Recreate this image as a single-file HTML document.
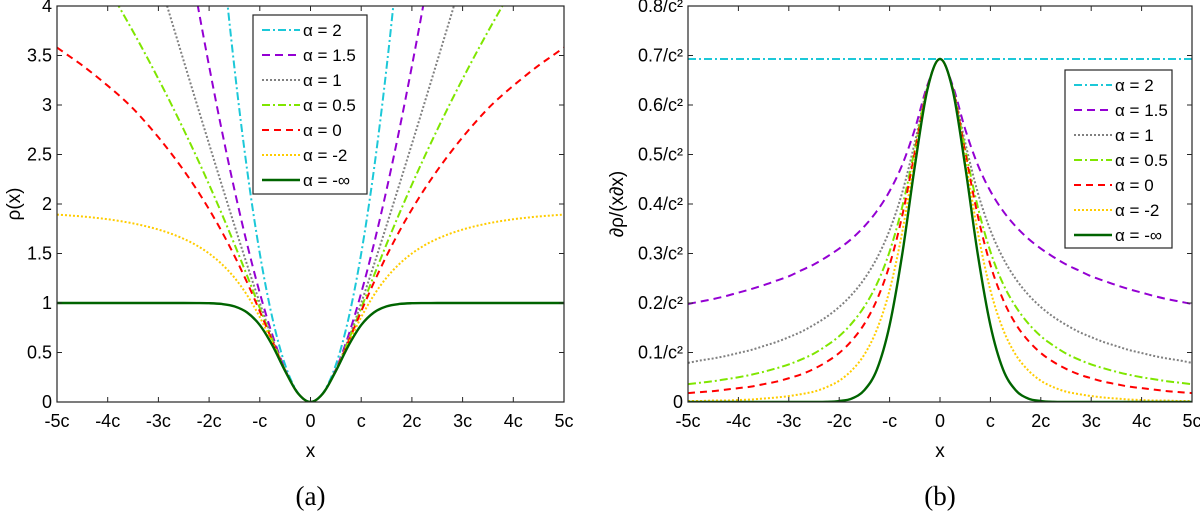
<!DOCTYPE html>
<html><head><meta charset="utf-8"><style>
body{margin:0;background:#fff;}
svg text{font-family:"Liberation Sans",sans-serif;fill:#000;}
</style></head><body>
<svg id="fig" width="1200" height="515" viewBox="0 0 1200 515" xmlns="http://www.w3.org/2000/svg"></svg>
<script>
const xSamples=[0,0.25,0.5,0.75,1,1.25,1.5,1.75,2,2.25,2.5,2.75,3,3.25,3.5,3.75,4,4.25,4.5,4.75,5];
const seriesLabels=["α = 2","α = 1.5","α = 1","α = 0.5","α = 0","α = -2","α = -∞"];
const rhoA2=[0,0.094,0.375,0.844,1.5,2.344,3.375,4.594,6.0,7.59,9.375,11.34,13.5,15.84,18.375,21.09,24,27.09,30.375,33.84,37.5];
const rhoA15=[0,0.090,0.329,0.675,1.101,1.594,2.144,2.745,3.393,4.08,4.82,5.59,6.40,7.24,8.12,9.03,9.97,10.93,11.93,12.97,14.03];
const rhoA1=[0,0.090,0.323,0.639,1,1.385,1.784,2.192,2.606,3.023,3.444,3.867,4.292,4.718,5.144,5.572,6,6.429,6.858,7.288,7.718];
const rhoA05=[0,0.090,0.320,0.622,0.948,1.275,1.594,1.901,2.196,2.479,2.750,3.012,3.263,3.507,3.742,3.969,4.190,4.405,4.614,4.818,5.017];
const rhoA0=[0,0.0896,0.318,0.612,0.916,1.207,1.476,1.722,1.946,2.151,2.339,2.513,2.674,2.824,2.964,3.085,3.195,3.300,3.400,3.490,3.580];
const rhoAm2=[0,0.0896,0.316,0.593,0.857,1.079,1.256,1.393,1.5,1.583,1.648,1.700,1.742,1.776,1.804,1.827,1.846,1.861,1.874,1.884,1.893];
const rhoAinf=[0,0.0895,0.313,0.570,0.777,0.904,0.966,0.990,0.998,0.9995,1,1,1,1,1,1,1,1,1,1,1];
const wA2=[0.693,0.693,0.693,0.693,0.693,0.693,0.693,0.693,0.693,0.693,0.693,0.693,0.693,0.693,0.693,0.693,0.693,0.693,0.693,0.693,0.693];
const wA15=[0.693,0.640,0.551,0.479,0.426,0.386,0.355,0.330,0.310,0.293,0.278,0.266,0.254,0.245,0.236,0.228,0.221,0.214,0.208,0.203,0.198];
const wA1=[0.693,0.636,0.524,0.423,0.347,0.291,0.249,0.217,0.192,0.172,0.156,0.142,0.131,0.121,0.113,0.105,0.099,0.093,0.088,0.084,0.079];
const wA05=[0.693,0.634,0.511,0.394,0.304,0.239,0.193,0.159,0.133,0.114,0.098,0.086,0.076,0.068,0.061,0.055,0.050,0.046,0.042,0.039,0.036];
const wA0=[0.693,0.634,0.504,0.376,0.277,0.207,0.158,0.124,0.099,0.081,0.067,0.056,0.048,0.041,0.036,0.031,0.028,0.025,0.022,0.020,0.018];
const wAm2=[0.693,0.632,0.491,0.343,0.226,0.147,0.096,0.064,0.043,0.030,0.021,0.016,0.012,0.009,0.007,0.005,0.004,0.003,0.003,0.002,0.002];
const wAinf=[0.693,0.631,0.476,0.298,0.155,0.066,0.024,0.007,0.002,0.0003,0,0,0,0,0,0,0,0,0,0,0];
const xTickVals=[-5,-4,-3,-2,-1,0,1,2,3,4,5];
const xTickLabels=["-5c","-4c","-3c","-2c","-c","0","c","2c","3c","4c","5c"];
const yTickValsA=[0,0.5,1,1.5,2,2.5,3,3.5,4];
const yTickLabelsA=["0","0.5","1","1.5","2","2.5","3","3.5","4"];
const yTickValsB=[0,0.1,0.2,0.3,0.4,0.5,0.6,0.7,0.8];
const yTickLabelsB=["0","0.1/c²","0.2/c²","0.3/c²","0.4/c²","0.5/c²","0.6/c²","0.7/c²","0.8/c²"];

const colors=["#1cc8d8","#9400d3","#808080","#7fe600","#ff0000","#ffcc00","#006400"];
const dashes=["8,3,2,3","8,5","2,2","8,3,2,3","7,5","2,2",""];
const NS="http://www.w3.org/2000/svg";
const svg=document.getElementById('fig');
function mk(tag,attrs,parent){const e=document.createElementNS(NS,tag);for(const k in attrs)e.setAttribute(k,attrs[k]);(parent||svg).appendChild(e);return e;}
function smooth(P){
  let d='M'+P[0][0].toFixed(2)+','+P[0][1].toFixed(2);
  for(let i=0;i<P.length-1;i++){
    const p0=P[Math.max(0,i-1)],p1=P[i],p2=P[i+1],p3=P[Math.min(P.length-1,i+2)];
    const c1=[p1[0]+(p2[0]-p0[0])/6,p1[1]+(p2[1]-p0[1])/6];
    const c2=[p2[0]-(p3[0]-p1[0])/6,p2[1]-(p3[1]-p1[1])/6];
    d+=' C'+c1[0].toFixed(2)+','+c1[1].toFixed(2)+' '+c2[0].toFixed(2)+','+c2[1].toFixed(2)+' '+p2[0].toFixed(2)+','+p2[1].toFixed(2);
  }
  return d;
}

function panel(id,box,ymax,yVals,yLabels,series,legendBox,ylabel,sub){
  const g=mk('g',{});
  
  
  const sx=v=>box.L+(v+5)/10*(box.R-box.L);
  const sy=v=>box.B-v/ymax*(box.B-box.T);
  const cp=mk('clipPath',{id:id+'-clip'},g);
  mk('rect',{x:box.L,y:box.T,width:box.R-box.L,height:box.B-box.T},cp);
  series.forEach((arr,i)=>{
    const pts=[];
    for(let k=xSamples.length-1;k>0;k--)pts.push([sx(-xSamples[k]),sy(arr[k])]);
    for(let k=0;k<xSamples.length;k++)pts.push([sx(xSamples[k]),sy(arr[k])]);
    const p=mk('path',{d:smooth(pts),fill:'none',stroke:colors[i],'stroke-width':i==6?2.4:2,'stroke-dasharray':dashes[i],'clip-path':'url(#'+id+'-clip)'},g);
    
    
  });
  const fr=mk('rect',{x:box.L,y:box.T,width:box.R-box.L,height:box.B-box.T,fill:'none',stroke:'#262626','stroke-width':1.2},g);
  
  
  xTickVals.forEach((v,i)=>{
    const x=sx(v);
    mk('line',{x1:x,y1:box.B,x2:x,y2:box.B-5,stroke:'#262626'},g);
    mk('line',{x1:x,y1:box.T,x2:x,y2:box.T+5,stroke:'#262626'},g);
    const t=mk('text',{x:x,y:box.B+25,'font-size':18,'text-anchor':'middle'},g);
    t.textContent=xTickLabels[i];
    
    
  });
  yVals.forEach((v,i)=>{
    const y=sy(v);
    mk('line',{x1:box.L,y1:y,x2:box.L+5,y2:y,stroke:'#262626'},g);
    mk('line',{x1:box.R,y1:y,x2:box.R-5,y2:y,stroke:'#262626'},g);
    const t=mk('text',{x:box.L-5,y:y+6,'font-size':18,'text-anchor':'end'},g);
    t.textContent=yLabels[i];
    
    
  });
  const xt=mk('text',{x:(box.L+box.R)/2,y:box.B+55,'font-size':19,'text-anchor':'middle'},g);
  xt.textContent='x';
  
  
  const yt=mk('text',{x:0,y:0,'font-size':19,'text-anchor':'middle',transform:'translate('+ylabel.x+','+((box.T+box.B)/2)+') rotate(-90)'},g);
  yt.textContent=ylabel.text;
  
  
  const st=mk('text',{x:(box.L+box.R)/2,y:505,'font-size':27,'text-anchor':'middle','style':'font-family:"Liberation Serif",serif'},g);
  st.textContent=sub;
  
  
  const lg=mk('g',{},g);
  
  
  mk('rect',{x:legendBox.x,y:legendBox.y,width:legendBox.w,height:legendBox.h,fill:'#fff',stroke:'#262626','stroke-width':1.2},lg);
  seriesLabels.forEach((s,i)=>{
    const y=legendBox.y+15+i*25;
    const e=mk('g',{},lg);
    
    
    mk('line',{x1:legendBox.x+9,y1:y,x2:legendBox.x+47,y2:y,stroke:colors[i],'stroke-width':i==6?2.4:2,'stroke-dasharray':dashes[i]},e);
    const t=mk('text',{x:legendBox.x+50,y:y+6,'font-size':17},e);
    t.textContent=s;
  });
}
panel('panel-a',{L:57,R:564,T:6,B:402},4,yTickValsA,yTickLabelsA,[rhoA2,rhoA15,rhoA1,rhoA05,rhoA0,rhoAm2,rhoAinf],{x:253,y:15,w:114,h:179},{x:20,text:'ρ(x)'},'(a)');
panel('panel-b',{L:688,R:1192,T:6,B:402},0.8,yTickValsB,yTickLabelsB,[wA2,wA15,wA1,wA05,wA0,wAm2,wAinf],{x:1065,y:70,w:107,h:178},{x:623,text:'∂ρ/(x∂x)'},'(b)');
</script>
</body></html>
